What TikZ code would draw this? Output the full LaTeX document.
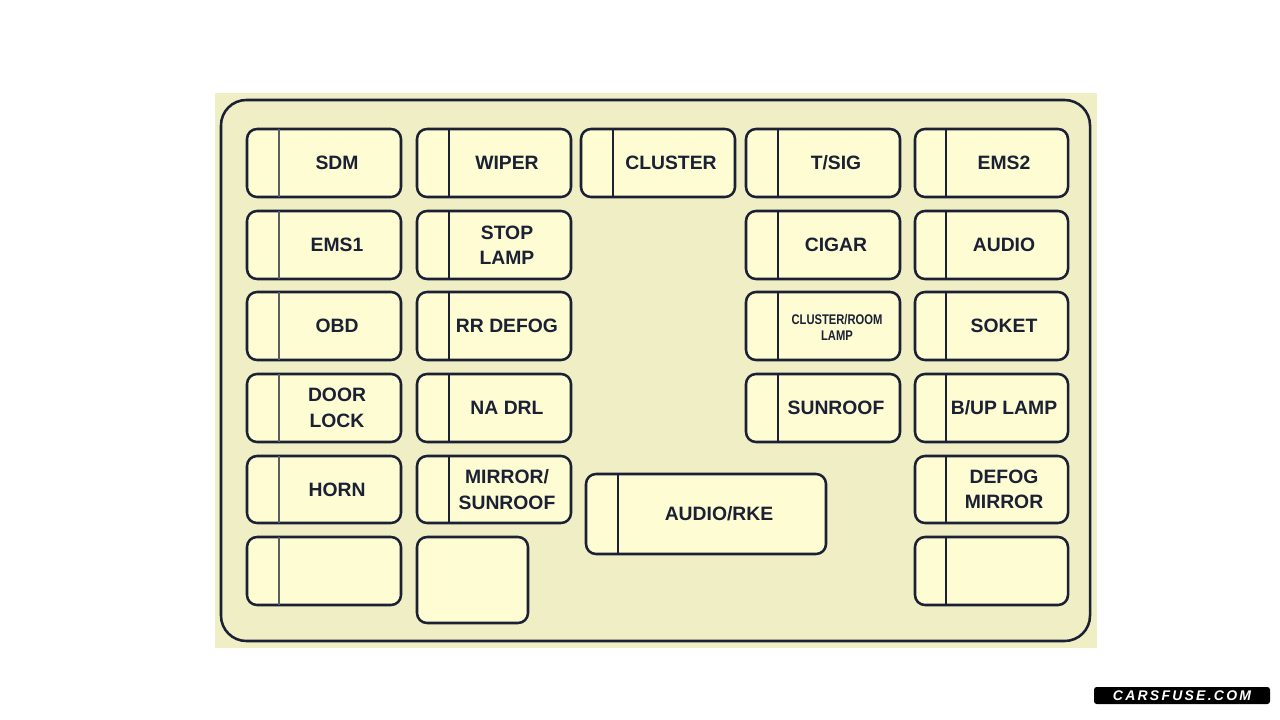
\documentclass[tikz,border=0pt]{standalone}
\usepackage{fontspec}
\setmainfont{Liberation Sans}
\definecolor{bgbeige}{HTML}{F0EEC4}
\definecolor{fusefill}{HTML}{FDFCD2}
\definecolor{ink}{HTML}{1B2034}
\definecolor{grayline}{HTML}{5A5E62}
\tikzset{
  fusebox/.style={draw=ink, fill=fusefill, line width=1.9pt, rounded corners=7.5pt, inner sep=0pt},
  divider/.style={draw=ink, line width=1.3pt},
  graydiv/.style={draw=grayline, line width=1.3pt},
  fuselabel/.style={font=\bfseries\fontsize{14.5}{19}\selectfont, text=ink, align=center, inner sep=0pt},
  smalllabel/.style={font=\bfseries\fontsize{10.5}{12}\selectfont, text=ink, align=center, inner sep=0pt},
  frame/.style={draw=ink, fill=bgbeige, line width=1.9pt, rounded corners=19pt}
}
\newcommand\fuse[8]{%
  \node[fusebox, minimum width={(#4-#2)*0.75pt}, minimum height={(#5-#3)*0.75pt}] (#1) at ({(#2+#4)/2},{(#3+#5)/2}) {};
  \draw[#8] (#6,#3) -- (#6,#5);
  \node[fuselabel] (#1-t) at ({(#6+#4)/2-3},{(#3+#5)/2}) {#7};
}
\begin{document}
\begin{tikzpicture}[x=0.75pt,y=-0.75pt]
\useasboundingbox (0,0) rectangle (1280,720);
\fill[white] (0,0) rectangle (1280,720);
\fill[bgbeige] (215,93) rectangle (1097,648);
\draw[frame] (221,100) rectangle (1090,641);
% column 1
\fuse{sdm}{247}{129}{401}{197}{279}{SDM}{graydiv}
\fuse{ems1}{247}{211}{401}{279}{279}{EMS1}{graydiv}
\fuse{obd}{247}{292}{401}{360}{279}{OBD}{graydiv}
\fuse{doorlock}{247}{374}{401}{442}{279}{DOOR\\LOCK}{graydiv}
\fuse{horn}{247}{456}{401}{523}{279}{HORN}{graydiv}
\fuse{c1r6}{247}{537}{401}{605}{279}{}{graydiv}
% column 2
\fuse{wiper}{417}{129}{571}{197}{449}{WIPER}{divider}
\fuse{stoplamp}{417}{211}{571}{279}{449}{STOP\\LAMP}{divider}
\fuse{rrdefog}{417}{292}{571}{360}{449}{RR DEFOG}{divider}
\fuse{nadrl}{417}{374}{571}{442}{449}{NA DRL}{divider}
\fuse{mirrorsun}{417}{456}{571}{523}{449}{MIRROR/\\SUNROOF}{divider}
\node[fusebox, minimum width={111*0.75pt}, minimum height={86*0.75pt}] (c2r6) at (472.5,580) {};
% column 3
\fuse{cluster}{581}{129}{735}{197}{613}{CLUSTER}{divider}
\fuse{audiorke}{586}{474}{826}{554}{618}{AUDIO/RKE}{divider}
% column 4
\fuse{tsig}{746}{129}{900}{197}{778}{T/SIG}{divider}
\fuse{cigar}{746}{211}{900}{279}{778}{CIGAR}{divider}
\node[fusebox, minimum width={154*0.75pt}, minimum height={68*0.75pt}] (clusterroom) at (823,326) {};
\draw[divider] (778,292) -- (778,360);
\node[smalllabel, xscale=0.8] (clusterroom-t) at (837,327) {CLUSTER/ROOM\\LAMP};
\fuse{sunroof}{746}{374}{900}{442}{778}{SUNROOF}{divider}
% column 5
\fuse{ems2}{915}{129}{1068}{197}{946}{EMS2}{divider}
\fuse{audio}{915}{211}{1068}{279}{946}{AUDIO}{divider}
\fuse{soket}{915}{292}{1068}{360}{946}{SOKET}{divider}
\fuse{buplamp}{915}{374}{1068}{442}{946}{B/UP LAMP}{divider}
\fuse{defogmirror}{915}{456}{1068}{523}{946}{DEFOG\\MIRROR}{divider}
\fuse{c5r6}{915}{537}{1068}{605}{946}{}{divider}
% watermark
\node[fill=black, rounded corners=2pt, minimum width={176*0.75pt}, minimum height={17*0.75pt}, inner sep=0pt,
  text=white, font=\bfseries\itshape\fontsize{10.5}{12}\selectfont] (wm) at (1182,695.5) {\addfontfeatures{LetterSpace=16}CARSFUSE.COM};
\end{tikzpicture}
\end{document}
